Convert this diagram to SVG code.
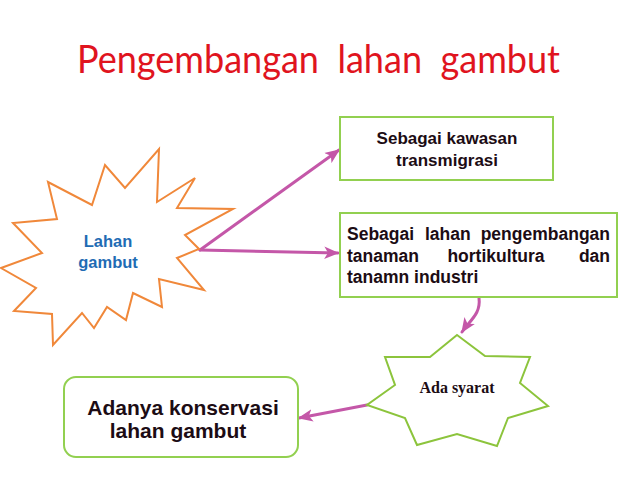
<svg xmlns="http://www.w3.org/2000/svg" width="638" height="478" viewBox="0 0 638 478">
<defs>
<style>
.box{fill:#fff;stroke:#92d050;stroke-width:2}
.t{font-family:"Liberation Sans",Arial,sans-serif;font-weight:bold;fill:#1c0c14}
.conn{fill:none;stroke:#c457a8;stroke-width:3;stroke-linecap:round}
.glow{fill:none;stroke:#e9b5dc;stroke-width:6;stroke-linecap:round;opacity:0.6}
</style>
<marker id="ah" viewBox="0 0 12 10" refX="11" refY="5" markerWidth="5" markerHeight="4.5" orient="auto" markerUnits="strokeWidth">
<path d="M0,0 L12,5 L0,10 L3,5 z" fill="#c457a8"/>
</marker>
</defs>
<rect width="638" height="478" fill="#fff"/>
<text x="77" y="73" font-family="Lato,'Open Sans',sans-serif" font-size="39" fill="#e0141e" textLength="483" lengthAdjust="spacingAndGlyphs" xml:space="preserve">Pengembangan  lahan  gambut</text>

<g id="connectors">
<path class="conn" d="M200,250 L339,150" marker-end="url(#ah)"/>
<path class="conn" d="M200,250 L338,253" marker-end="url(#ah)"/>
<path class="conn" d="M479,298 C481,314 470,320 462,332" marker-end="url(#ah)"/>
<path class="conn" d="M367,405 L299,418" marker-end="url(#ah)"/>
</g>

<g id="lahan-gambut">
<polygon points="159,149 157,202 195,178 177,208 233,209 185,235 199,249 177,258 204,290 159,279 162,307 133,293 126,320 107,307 94,328 82,313 53,345 52,314 14,311 36,288 1,268 42,253 13,223 57,219 48,182 92,205 105,165 125,188" fill="#fff" stroke="#f0883a" stroke-width="2" stroke-linejoin="miter"/>
<text x="108" y="247" text-anchor="middle" font-family="'Liberation Sans',Arial,sans-serif" font-weight="bold" font-size="16.5" fill="#1f6cb4">Lahan</text>
<text x="108" y="268" text-anchor="middle" font-family="'Liberation Sans',Arial,sans-serif" font-weight="bold" font-size="16.5" fill="#1f6cb4">gambut</text>
</g>

<g id="transmigrasi">
<rect class="box" x="340" y="117" width="213" height="63"/>
<text class="t" x="447" y="144" text-anchor="middle" font-size="17">Sebagai kawasan</text>
<text class="t" x="447" y="166" text-anchor="middle" font-size="17">transmigrasi</text>
</g>

<g id="hortikultura">
<rect class="box" x="340" y="213" width="277" height="84"/>
<text class="t" x="347" y="240" font-size="17.5">Sebagai</text>
<text class="t" x="425" y="240" font-size="17.5">lahan</text>
<text class="t" x="610" y="240" text-anchor="end" font-size="17.5">pengembangan</text>
<text class="t" x="347" y="262" font-size="17.5">tanaman</text>
<text class="t" x="496" y="262" text-anchor="middle" font-size="17.5">hortikultura</text>
<text class="t" x="610" y="262" text-anchor="end" font-size="17.5">dan</text>
<text class="t" x="347" y="283" font-size="17.5">tanamn industri</text>
</g>

<g id="ada-syarat">
<polygon points="457,335 485,356 530,357 520,383 548,406 508,418 497,446 457,434 417,445 405,418 367,405 395,385 385,357 430,357" fill="#fff" stroke="#8cc43c" stroke-width="2"/>
<text x="457" y="393" text-anchor="middle" font-family="'Liberation Serif','Times New Roman',serif" font-weight="bold" font-size="16" fill="#1c0c14">Ada syarat</text>
</g>

<g id="konservasi">
<rect class="box" x="64" y="377" width="234" height="80" rx="12" ry="12"/>
<text class="t" x="183" y="415" text-anchor="middle" font-size="21">Adanya konservasi</text>
<text class="t" x="178" y="438" text-anchor="middle" font-size="21">lahan gambut</text>
</g>
</svg>
